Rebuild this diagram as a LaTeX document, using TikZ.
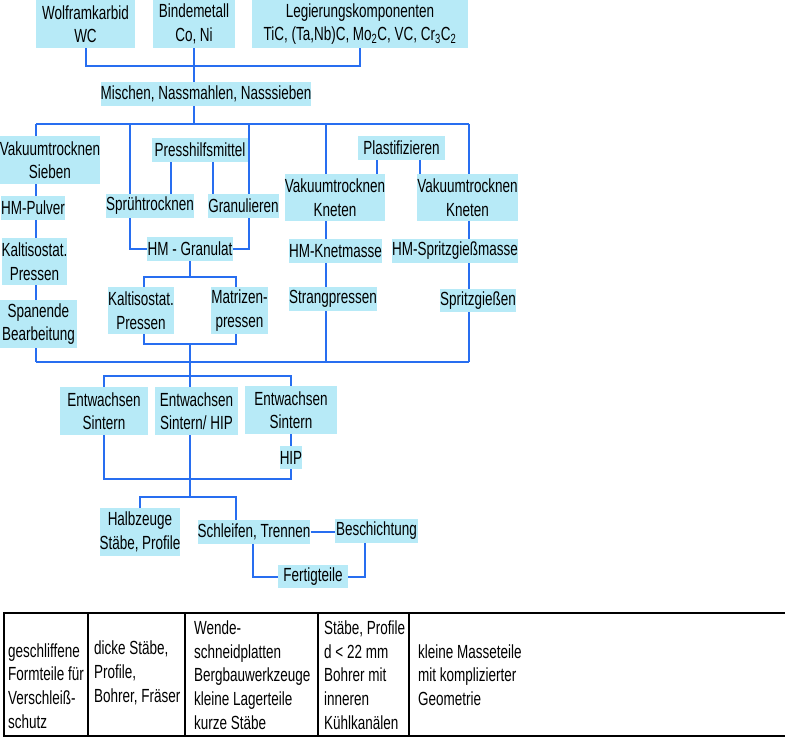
\documentclass[tikz,border=0pt]{standalone}
\usepackage{fontspec}
\setmainfont{Liberation Sans}[FakeStretch=0.71]
\begin{document}
\begin{tikzpicture}[x=1pt,y=-1pt,
  bx/.style={fill=boxc,inner sep=0pt,align=center,font=\fontsize{19}{23.5}\selectfont},
  ln/.style={draw=linec,line width=2pt},
  tx/.style={anchor=west,align=left,inner sep=0pt,font=\fontsize{19}{23.7}\selectfont}]
\definecolor{boxc}{RGB}{183,234,247}
\definecolor{linec}{RGB}{40,110,240}
\useasboundingbox (0,0) rectangle (785,738);
% boxes
\node[bx,minimum width=99,minimum height=48] (wc) at (85.5,24) {Wolframkarbid\\WC};
\node[bx,minimum width=82,minimum height=48] (bind) at (194,24) {Bindemetall\\Co, Ni};
\node[bx,minimum width=216,minimum height=48] (leg) at (360,24) {Legierungskomponenten\\TiC, (Ta,Nb)C, Mo\textsubscript{2}C, VC, Cr\textsubscript{3}C\textsubscript{2}};
\node[bx,minimum width=208,minimum height=24] (mix) at (206,94) {Mischen, Nassmahlen, Nasssieben};
\node[bx,minimum width=100,minimum height=48] (vs) at (50,160) {Vakuumtrocknen\\Sieben};
\node[bx,minimum width=62,minimum height=24] (pul) at (33,208) {HM-Pulver};
\node[bx,minimum width=65,minimum height=47] (kp1) at (34.5,261.5) {Kaltisostat.\\Pressen};
\node[bx,minimum width=77,minimum height=48] (sb) at (38.5,324) {Spanende\\Bearbeitung};
\node[bx,minimum width=96,minimum height=24] (ph) at (200,150) {Presshilfsmittel};
\node[bx,minimum width=86,minimum height=24] (spr) at (150,206) {Sprühtrocknen};
\node[bx,minimum width=69,minimum height=24] (gl) at (243.5,206) {Granulieren};
\node[bx,minimum width=86,minimum height=24] (gran) at (190,249) {HM - Granulat};
\node[bx,minimum width=64,minimum height=47] (kp2) at (141,310.5) {Kaltisostat.\\Pressen};
\node[bx,minimum width=55,minimum height=47] (mp) at (239.5,310.5) {Matrizen-\\pressen};
\node[bx,minimum width=87,minimum height=24] (pl) at (401.5,148) {Plastifizieren};
\node[bx,minimum width=100,minimum height=47] (vk1) at (335,197.5) {Vakuumtrocknen\\Kneten};
\node[bx,minimum width=99,minimum height=47] (vk2) at (467.5,197.5) {Vakuumtrocknen\\Kneten};
\node[bx,minimum width=91,minimum height=24] (km) at (335.5,251) {HM-Knetmasse};
\node[bx,minimum width=124,minimum height=24] (sgm) at (455,251) {HM-Spritzgießmasse};
\node[bx,minimum width=86,minimum height=24] (spp) at (333,299) {Strangpressen};
\node[bx,minimum width=76,minimum height=23] (sg) at (478,300.5) {Spritzgießen};
\node[bx,minimum width=88,minimum height=48] (es1) at (104,411) {Entwachsen\\Sintern};
\node[bx,minimum width=83,minimum height=48] (es2) at (196.5,411) {Entwachsen\\Sintern/ HIP};
\node[bx,minimum width=92,minimum height=48] (es3) at (291,410) {Entwachsen\\Sintern};
\node[bx,minimum width=22,minimum height=23] (hip) at (291,457.5) {HIP};
\node[bx,minimum width=80,minimum height=48] (hz) at (140,532) {Halbzeuge\\Stäbe, Profile};
\node[bx,minimum width=112,minimum height=24] (st) at (254,532) {Schleifen, Trennen};
\node[bx,minimum width=83,minimum height=24] (bs) at (376.5,531) {Beschichtung};
\node[bx,minimum width=70,minimum height=23] (ft) at (313,576.5) {Fertigteile};
% junctions
\coordinate (j1) at (194,66);
\coordinate (L) at (36,124);
\coordinate (R) at (469,124);
\coordinate (j2) at (194,124);
\coordinate (s1) at (130,124);
\coordinate (g1) at (249,124);
\coordinate (v1) at (326,124);
\coordinate (B1) at (36,362);
\coordinate (B2) at (469,362);
\coordinate (m1) at (190,277);
\coordinate (m2) at (190,344);
\coordinate (e1) at (190,376);
\coordinate (f1) at (190,479);
\coordinate (f2) at (190,497);
\coordinate (xa) at (171,0);
\coordinate (xb) at (213,0);
\coordinate (xc) at (144,0);
\coordinate (xd) at (236,0);
\coordinate (xe) at (377,0);
\coordinate (xf) at (420,0);
\coordinate (xg) at (253,0);
\coordinate (xh) at (365,0);
% connectors
\draw[ln] (wc.south) |- (j1) -| (leg.south);
\draw[ln] (bind.south) -- (mix.north -| bind.south);
\draw[ln] (mix.south -| j2) -- (j2);
\draw[ln] (L) -- (R);
\draw[ln] (L) -- (L |- vs.north);
\draw[ln] (L |- vs.south) -- (L |- pul.north);
\draw[ln] (L |- pul.south) -- (L |- kp1.north);
\draw[ln] (L |- kp1.south) -- (L |- sb.north);
\draw[ln] (L |- sb.south) -- (B1);
\draw[ln] (B1) -- (B2);
\draw[ln] (s1) -- (s1 |- spr.north);
\draw[ln] (s1 |- spr.south) |- (gran.west);
\draw[ln] (ph.south -| xa) -- (spr.north -| xa);
\draw[ln] (ph.south -| xb) -- (gl.north -| xb);
\draw[ln] (g1) -- (g1 |- gl.north);
\draw[ln] (g1 |- gl.south) |- (gran.east);
\draw[ln] (gran.south) -- (m1);
\draw[ln] (kp2.north -| xc) |- (m1) -| (mp.north -| xd);
\draw[ln] (kp2.south -| xc) |- (m2) -| (mp.south -| xd);
\draw[ln] (m2) -- (e1);
\draw[ln] (v1) -- (v1 |- vk1.north);
\draw[ln] (v1 |- vk1.south) -- (v1 |- km.north);
\draw[ln] (v1 |- km.south) -- (v1 |- spp.north);
\draw[ln] (v1 |- spp.south) -- (v1 |- B1);
\draw[ln] (pl.south -| xe) -- (vk1.north -| xe);
\draw[ln] (pl.south -| xf) -- (vk2.north -| xf);
\draw[ln] (R) -- (R |- vk2.north);
\draw[ln] (R |- vk2.south) -- (R |- sgm.north);
\draw[ln] (R |- sgm.south) -- (R |- sg.north);
\draw[ln] (R |- sg.south) -- (B2);
\draw[ln] (es1.north) |- (e1) -| (es3.north);
\draw[ln] (es2.north -| e1) -- (e1);
\draw[ln] (es3.south) -- (hip.north);
\draw[ln] (es1.south) |- (f1) -| (hip.south);
\draw[ln] (es2.south -| f1) -- (f2);
\draw[ln] (hz.north) |- (f2) -| (st.north -| xd);
\draw[ln] (st.east) -- (st.east -| bs.west);
\draw[ln] (st.south -| xg) |- (ft.west);
\draw[ln] (bs.south -| xh) |- (ft.east);
% table
\draw[line width=1.5pt] (4,613) rectangle (790,736);
\draw[line width=1.2pt] (88,613) -- (88,736) (185,613) -- (185,736) (318,613) -- (318,736) (409,613) -- (409,736);
\node[tx] (t1) at (8,686) {geschliffene\\Formteile für\\Verschleiß-\\schutz};
\node[tx] (t2) at (94,673) {dicke Stäbe,\\Profile,\\Bohrer, Fräser};
\node[tx] (t3) at (194,675) {Wende-\\schneidplatten\\Bergbauwerkzeuge\\kleine Lagerteile\\kurze Stäbe};
\node[tx] (t4) at (324,675) {Stäbe, Profile\\d < 22 mm\\Bohrer mit\\inneren\\Kühlkanälen};
\node[tx] (t5) at (418,675) {kleine Masseteile\\mit komplizierter\\Geometrie};
\end{tikzpicture}
\end{document}
